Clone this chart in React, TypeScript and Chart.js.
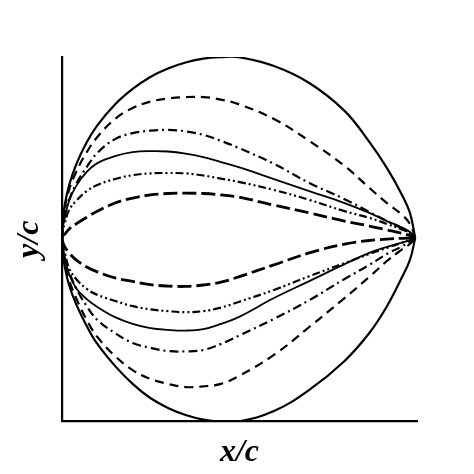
import React, { useEffect, useRef } from "react";
import { Chart, registerables } from "chart.js";

Chart.register(...registerables);

// x/c sample positions (shared by all curves)
const X = [0, 0.002, 0.008, 0.02, 0.04, 0.07, 0.1, 0.15, 0.2, 0.25, 0.3, 0.35, 0.4, 0.45, 0.5, 0.6, 0.7, 0.8, 0.87, 0.92, 0.96, 0.985, 1.0];

// y/c values, upper and lower branches of each curve (outermost to innermost)
const outerUpper = [0, 0.047, 0.095, 0.149, 0.208, 0.271, 0.319, 0.378, 0.422, 0.456, 0.48, 0.497, 0.508, 0.512, 0.512, 0.487, 0.439, 0.36, 0.272, 0.198, 0.127, 0.071, 0];
const outerLower = [0, -0.04, -0.082, -0.133, -0.187, -0.249, -0.3, -0.362, -0.413, -0.453, -0.481, -0.501, -0.514, -0.5195, -0.5195, -0.49, -0.43, -0.348, -0.269, -0.193, -0.116, -0.062, 0];

const dashUpper = [0, 0.042, 0.085, 0.136, 0.187, 0.243, 0.286, 0.337, 0.368, 0.386, 0.395, 0.399, 0.399, 0.392, 0.379, 0.337, 0.275, 0.204, 0.142, 0.099, 0.068, 0.04, 0];
const dashLower = [0, -0.037, -0.074, -0.119, -0.17, -0.232, -0.28, -0.334, -0.374, -0.399, -0.413, -0.422, -0.42, -0.413, -0.391, -0.331, -0.252, -0.17, -0.11, -0.065, -0.034, -0.017, 0];

const dashDotUpper = [0, 0.034, 0.068, 0.108, 0.153, 0.201, 0.241, 0.28, 0.297, 0.304, 0.306, 0.302, 0.292, 0.275, 0.255, 0.21, 0.156, 0.11, 0.074, 0.048, 0.028, 0.014, 0];
const dashDotLower = [0, -0.028, -0.059, -0.096, -0.142, -0.193, -0.232, -0.269, -0.297, -0.311, -0.32, -0.321, -0.317, -0.3, -0.277, -0.229, -0.176, -0.116, -0.076, -0.045, -0.025, -0.011, 0];

const innerUpper = [0, 0.028, 0.057, 0.105, 0.147, 0.187, 0.212, 0.232, 0.243, 0.246, 0.245, 0.239, 0.229, 0.215, 0.201, 0.167, 0.133, 0.099, 0.071, 0.048, 0.031, 0.017, 0];
const innerLower = [0, -0.025, -0.054, -0.102, -0.142, -0.173, -0.195, -0.224, -0.243, -0.255, -0.26, -0.262, -0.258, -0.243, -0.224, -0.17, -0.122, -0.074, -0.042, -0.025, -0.014, -0.006, 0];

const dashDotDotUpper = [0, 0.02, 0.042, 0.079, 0.105, 0.133, 0.15, 0.167, 0.178, 0.183, 0.184, 0.183, 0.177, 0.168, 0.159, 0.136, 0.108, 0.076, 0.057, 0.04, 0.025, 0.014, 0];
const dashDotDotLower = [0, -0.02, -0.042, -0.085, -0.116, -0.144, -0.161, -0.178, -0.193, -0.202, -0.207, -0.21, -0.207, -0.197, -0.181, -0.147, -0.108, -0.071, -0.045, -0.028, -0.014, -0.006, 0];

const longDashUpper = [0, 0.006, 0.011, 0.025, 0.04, 0.059, 0.076, 0.099, 0.113, 0.122, 0.126, 0.127, 0.126, 0.122, 0.116, 0.093, 0.071, 0.048, 0.034, 0.023, 0.014, 0.007, 0];
const longDashLower = [0, -0.011, -0.025, -0.042, -0.062, -0.082, -0.096, -0.113, -0.123, -0.132, -0.136, -0.137, -0.133, -0.125, -0.11, -0.076, -0.042, -0.017, -0.007, -0.003, -0.001, 0, 0];

const X_TITLE = "x/c";
const Y_TITLE = "y/c";

type Style = { width: number; dash: number[] };
const styles: Record<string, Style> = {
  outer: { width: 2.2, dash: [] },
  dash: { width: 2.2, dash: [9, 6] },
  dashDot: { width: 2.2, dash: [9, 4, 2, 4] },
  inner: { width: 1.8, dash: [] },
  dashDotDot: { width: 2.2, dash: [8, 3, 2, 3, 2, 3] },
  longDash: { width: 2.8, dash: [14, 5] },
};

const curves: [string, string, number[]][] = [
  ["outer upper", "outer", outerUpper],
  ["outer lower", "outer", outerLower],
  ["dash upper", "dash", dashUpper],
  ["dash lower", "dash", dashLower],
  ["dash-dot upper", "dashDot", dashDotUpper],
  ["dash-dot lower", "dashDot", dashDotLower],
  ["inner upper", "inner", innerUpper],
  ["inner lower", "inner", innerLower],
  ["dash-dot-dot upper", "dashDotDot", dashDotDotUpper],
  ["dash-dot-dot lower", "dashDotDot", dashDotDotLower],
  ["long-dash upper", "longDash", longDashUpper],
  ["long-dash lower", "longDash", longDashLower],
];

export default function App() {
  const ref = useRef<HTMLCanvasElement | null>(null);

  useEffect(() => {
    if (!ref.current) return;
    const datasets = curves.map(([label, key, ys]) => ({
      label,
      data: X.map((x, i) => ({ x, y: ys[i] })),
      borderColor: "#000",
      borderWidth: styles[key].width,
      borderDash: styles[key].dash,
      pointRadius: 0,
      fill: false,
      tension: 0.4,
      capBezierPoints: false,
      borderCapStyle: "butt" as const,
      borderJoinStyle: "round" as const,
    }));
    const titleFont = { family: "'Liberation Serif', 'DejaVu Serif', serif", size: 32, weight: "bold" as const, style: "italic" as const };
    const chart = new Chart(ref.current, {
      type: "line",
      data: { datasets },
      options: {
        animation: false,
        responsive: false,
        events: [],
        layout: { padding: { top: 57, right: 57, left: 0, bottom: 0 } },
        plugins: { legend: { display: false }, tooltip: { enabled: false } },
        scales: {
          x: {
            type: "linear",
            min: 0,
            max: 1.005,
            grid: { display: false, drawTicks: false },
            border: { display: true, color: "#000", width: 2.2 },
            ticks: { display: false },
            title: { display: true, text: X_TITLE, color: "#000", font: titleFont, padding: { top: 12.3, bottom: 1.8 } },
          },
          y: {
            type: "linear",
            min: -0.5195,
            max: 0.5125,
            grid: { display: false, drawTicks: false },
            border: { display: true, color: "#000", width: 2.2 },
            ticks: { display: false },
            title: { display: true, text: Y_TITLE, color: "#000", font: titleFont, padding: { top: 10.8, bottom: 12.8 } },
          },
        },
      },
    });
    return () => chart.destroy();
  }, []);

  return (
    <div style={{ position: "absolute", left: 0, top: 0, width: 474, height: 474, background: "#fff" }}>
      <canvas ref={ref} width={474} height={474} style={{ width: 474, height: 474, display: "block" }} />
    </div>
  );
}
